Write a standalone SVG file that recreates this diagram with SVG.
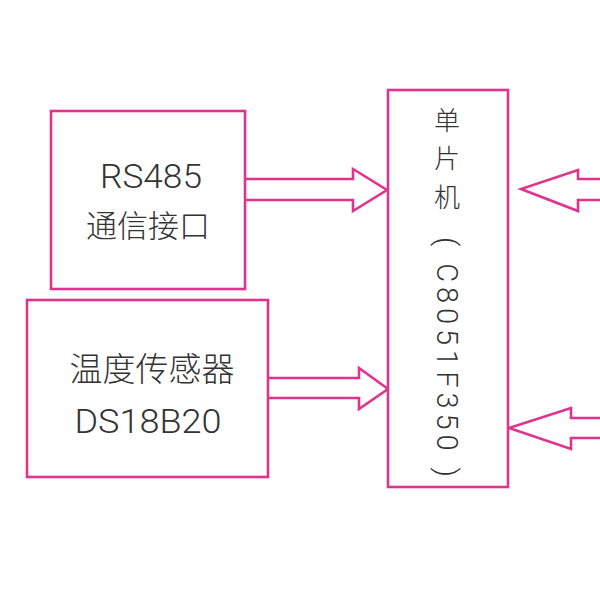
<svg xmlns="http://www.w3.org/2000/svg" width="600" height="600" viewBox="0 0 600 600">
<style>
.box{fill:#fff;stroke:#e0338c;stroke-width:2.6}
.arr{fill:#fff;stroke:#e0338c;stroke-width:2.6;stroke-linejoin:miter}
.t{font-family:Roboto,"Liberation Sans",sans-serif;font-weight:300;fill:#333;text-anchor:middle}
.c{font-family:"Noto Sans CJK SC",sans-serif;fill:#333;text-anchor:middle;font-weight:300}
</style>
<rect width="600" height="600" fill="#fff"/>
<g id="connectors">
<path class="arr" d="M245,179 H353 V169 L387,190 L353,211 V200 H245"/>
<path class="arr" d="M268,378 H359 V368 L388,389 L359,409 V398 H268"/>
<path class="arr" d="M602,179 H578 V170 L521,189 L578,211 V200 H602"/>
<path class="arr" d="M602,418 H571 V408 L509,428 L571,449 V438 H602"/>
</g>
<g id="rs485">
<rect class="box" x="51" y="111" width="194" height="178"/>
<text class="t" x="151" y="188" font-size="33" textLength="102" lengthAdjust="spacingAndGlyphs">RS485</text>
<text class="c" x="148" y="237" font-size="31">通信接口</text>
</g>
<g id="ds18b20">
<rect class="box" x="27" y="300" width="241" height="177"/>
<text class="c" x="152" y="381" font-size="33">温度传感器</text>
<text class="t" x="148" y="433" font-size="34" textLength="147" lengthAdjust="spacingAndGlyphs">DS18B20</text>
</g>
<g id="mcu">
<rect class="box" x="388" y="90" width="120" height="397"/>
<text class="c" x="447" y="130" font-size="26">单</text>
<text class="c" x="447" y="168" font-size="26">片</text>
<text class="c" x="447" y="207" font-size="26">机</text>
<text transform="translate(437,237) rotate(90)" font-family="Roboto, Liberation Sans, sans-serif" font-weight="300" font-size="29" fill="#333" textLength="240" lengthAdjust="spacing">( C8051F350 )</text>
</g>
</svg>
